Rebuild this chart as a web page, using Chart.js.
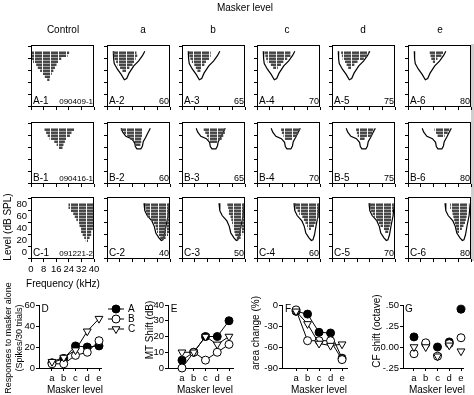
<!DOCTYPE html>
<html>
<head>
<meta charset="utf-8">
<script src="https://cdn.jsdelivr.net/npm/chart.js@4.4.0/dist/chart.umd.min.js"></script>
<style>
body { margin: 0; width: 474px; height: 395px; overflow: hidden; position: relative; background: #fff;
       font-family: "Liberation Sans", Arial, sans-serif; color: #000; }
.t { position: absolute; white-space: nowrap; line-height: 1; }
.edge { position: absolute; left: 471px; top: 44px; width: 3px; height: 217px; background: #cfcfcf; }
</style>
</head>
<body>
<div class="edge"></div>
<script>
// ---- data: frequency response areas (level dB, low kHz, high kHz) ----
const freqTicks = [0, 8, 16, 24, 32, 40];
const levelTicks = [0, 20, 40, 60, 80];
const columnLabels = ['Control', 'a', 'b', 'c', 'd', 'e'];
const rowNames = ['A', 'B', 'C'];
const unitIds = ['090409-1', '090416-1', '091221-2'];
const maskerA = [60, 65, 70, 75, 80];
const maskerB = [60, 65, 70, 75, 80];
const maskerC = [40, 50, 60, 70, 80];

// control tuning-curve outlines (kHz, dB)
const outlineA = [[4,82.5],[4.2,70],[4.6,62],[6.5,53],[9,44],[11,35],[12.5,37],[14,46],[17,58],[20,66],[22.5,75],[24,82.5]];
const outlineB = [[9,82.5],[10,76],[12,69],[15.5,65],[17.5,59],[18,52],[19,48],[21.5,48],[22.5,53],[23,60],[24.5,67],[26,75],[27.5,82.5]];
const outlineC = [[23.5,82.5],[24,70],[25.5,62],[28.5,53],[30,44],[31,33],[33,25],[34.5,20.5],[35.5,21.5],[36.5,30],[37.5,45],[38.8,62],[39.5,82.5]];

const rasterA1 = [[80,0.5,24],[75,0.5,23],[70,0.5,19],[65,1.5,17.5],[60,3.5,16],[55,4.5,15],[50,6,14],[45,7.5,13],[40,9,12],[35,10.5,11.5]];
const rasterA2 = [[80,4,18.5],[75,4.5,19],[70,5,18],[65,6,17],[60,7,16],[55,8.5,14],[50,10,12.5]];
const rasterA3 = [[80,4.5,18],[75,5,18],[70,5.5,17],[65,6.5,15],[60,8,14],[55,9,12.5],[50,10,11.5]];
const rasterA4 = [[80,5,21],[75,5.5,21],[70,6,19],[65,7,16.5],[60,9,15],[55,10.5,13]];
const rasterA5 = [[80,6,23],[75,6.5,22],[70,7,20],[65,8.5,16],[60,9.5,14],[55,10.5,12]];
const rasterA6 = [[80,14,22.5],[75,14.5,21],[70,15,18.5],[65,16,17]];

const rasterB1 = [[80,8.8,27.5],[75,9.8,25.5],[70,10.8,24.5],[65,12,22.3],[60,15,21.3],[55,16.5,20.4],[50,17.8,19.8]];
const rasterB2 = [[80,9,22.5],[75,11,22],[70,13,22],[65,15,21.5],[60,17,21.5],[55,18,21]];
const rasterB3 = [[80,14,27],[75,15,27],[70,16,26],[65,17,25],[60,18,22]];
const rasterB4 = [[80,15.5,27],[75,16,26],[70,17,25],[65,18,22]];
const rasterB5 = [[80,15.5,26],[75,16,25.5],[70,16.5,25],[65,18,20.5]];
const rasterB6 = [[80,17,26],[75,18,25],[70,19,23]];

const rasterC1 = [[80,24,40],[75,24,40],[70,25,40],[65,27,40],[60,28,40],[55,29,40],[50,30,40],[45,31,40],[40,32,39],[35,32,38],[30,33,38],[25,34,37],[20,35,36]];
const rasterC2 = [[80,24.5,40],[75,25,40],[70,25,40],[65,25.5,40],[60,26,40],[55,28,40],[50,30,40],[45,31,40],[40,31.5,40],[35,32,39.5],[30,33,38.5],[25,34,37]];
const rasterC3 = [[80,29,40],[75,29.5,40],[70,30,40],[65,30,40],[60,31,40],[55,31.5,40],[50,32,40],[45,32.5,40],[40,33,39.5],[35,33.5,39],[30,34,38],[25,35,37]];
const rasterC4 = [[80,24,40],[75,25,40],[70,26,40],[65,27,40],[60,29,39],[55,30,38.5],[50,31,37],[45,32,36],[40,32.5,34]];
const rasterC5 = [[80,24,39],[75,24.5,39],[70,25,38.5],[65,26,38],[60,27,38],[55,28.5,37.5],[50,30,37],[45,31,36.5],[40,33,36],[35,34,35.5]];
const rasterC6 = [[80,27,38],[75,27,38],[70,27.5,37.5],[65,28.5,37.5],[60,29,37],[55,29.5,36.5],[50,30,36],[45,30.5,35],[40,31,34],[35,31.5,32.5]];

// ---- data: summary panels D-G ----
const maskerLevels = ['a', 'b', 'c', 'd', 'e'];
const seriesNames = ['A', 'B', 'C'];
const respA = [5, 9, 21, 20, 21];
const respB = [4, 4, 12, 15, 26];
const respC = [6, 10, 17, 35, 47];
const mtA = [5, 10, 20, 20, 30];
const mtB = [0, 10, 5, 10, 15];
const mtC = [10, 10, 20, 15, 20];
const areaA = [-9, -13, -39, -40, -76];
const areaB = [-7, -51, -51, -51, -78];
const areaC = [-9, -27, -55, -58, -56];
const cfA = [0.12, 0.04, 0.0, 0.06, 0.45];
const cfB = [-0.08, 0.05, -0.11, 0.04, 0.11];
const cfC = [0.0, 0.0, -0.11, 0.02, -0.05];
const respTicks = [0, 20, 40, 60];
const mtTicks = [0, 10, 20, 30, 40];
const areaTicks = [-90, -60, -30, 0];
const cfTicks = [-0.25, 0, 0.25, 0.5];
const cfTickLabels = ['-.25', '0.00', '.25', '.50'];

Chart.defaults.font.family = '"Liberation Sans", Arial, sans-serif';
Chart.defaults.font.size = 9;
Chart.defaults.color = '#000';

const COL_X = [31, 107, 182, 257, 332, 408];
const ROW_Y = [45, 122, 197];
const PW = 63, PH = 62;

function makeCanvas(x, y, w, h) {
  const cv = document.createElement('canvas');
  cv.width = w; cv.height = h;
  cv.style.cssText = `position:absolute;left:${x}px;top:${y}px;width:${w}px;height:${h}px`;
  document.body.appendChild(cv);
  return cv;
}

function text(str, x, y, size, align, rotate) {
  const d = document.createElement('div');
  d.className = 't';
  d.textContent = str;
  d.style.fontSize = size + 'px';
  d.style.left = x + 'px';
  d.style.top = y + 'px';
  let tf = align === 'left' ? 'translate(0,-50%)' : align === 'right' ? 'translate(-100%,-50%)' : 'translate(-50%,-50%)';
  if (rotate) tf += ' rotate(-90deg)';
  d.style.transform = tf;
  document.body.appendChild(d);
}

const framePlugin = {
  id: 'frame',
  afterDatasetsDraw(chart) {
    const a = chart.chartArea, ctx = chart.ctx;
    ctx.save();
    ctx.strokeStyle = '#000';
    ctx.lineWidth = 1;
    ctx.strokeRect(Math.round(a.left) + 0.5, Math.round(a.top) + 0.5,
                   Math.round(a.right - a.left) - 1, Math.round(a.bottom - a.top) - 1);
    ctx.restore();
  }
};

// runs of spike ticks along a raster row
function rasterPattern(ctx) {
  const p = document.createElement('canvas');
  p.width = 8; p.height = 2;
  const g = p.getContext('2d');
  g.fillStyle = '#444';
  g.fillRect(0, 0, 7, 2);
  return ctx.createPattern(p, 'repeat');
}

const rasters = [
  [rasterA1, rasterA2, rasterA3, rasterA4, rasterA5, rasterA6],
  [rasterB1, rasterB2, rasterB3, rasterB4, rasterB5, rasterB6],
  [rasterC1, rasterC2, rasterC3, rasterC4, rasterC5, rasterC6]
];
const outlines = [outlineA, outlineB, outlineC];
const maskers = [maskerA, maskerB, maskerC];

function smallPanel(r, c) {
  const withLabels = r === 2 && c === 0;
  const padL = withLabels ? 24 : 4, padB = withLabels ? 16 : 4, padR = withLabels ? 8 : 1;
  const W = padL + PW + padR, H = PH + padB + 1;
  const cv = makeCanvas(COL_X[c] - padL, ROW_Y[r] - 1, W, H);
  const datasets = [{
    type: 'bar',
    data: rasters[r][c].map(([lvl, lo, hi]) => ({ y: lvl, x: [lo, hi] })),
    backgroundColor: rasterPattern(cv.getContext('2d')),
    borderWidth: 0,
    barThickness: 1.8
  }];
  if (c > 0) {
    datasets.push({
      type: 'line',
      data: outlines[r].map(([f, l]) => ({ x: f, y: l })),
      borderColor: '#000',
      borderWidth: 1.2,
      pointRadius: 0,
      fill: false
    });
  }
  new Chart(cv, {
    type: 'bar',
    data: { datasets },
    options: {
      responsive: false, animation: false, devicePixelRatio: 1, events: [],
      indexAxis: 'y',
      layout: { padding: { top: 1, right: padR, left: 0, bottom: 0 } },
      plugins: { legend: { display: false }, tooltip: { enabled: false } },
      scales: {
        x: {
          type: 'linear', min: 0, max: 40,
          afterBuildTicks: s => { s.ticks = freqTicks.map(v => ({ value: v })); },
          afterFit: s => { s.height = padB; s.paddingLeft = 0; s.paddingRight = 0; },
          grid: { drawOnChartArea: false, drawTicks: true, tickLength: 3, color: '#000' },
          border: { display: false },
          ticks: { display: withLabels, padding: 2, maxRotation: 0, autoSkip: false, font: { size: 9.5 } }
        },
        y: {
          type: 'linear', min: 0, max: 82.5,
          afterBuildTicks: s => { s.ticks = levelTicks.map(v => ({ value: v })); },
          afterFit: s => { s.width = padL; s.paddingTop = 0; s.paddingBottom = 0; },
          grid: { drawOnChartArea: false, drawTicks: true, tickLength: 3, color: '#000' },
          border: { display: false },
          ticks: { display: withLabels, padding: 1, autoSkip: false, font: { size: 9.5 } }
        }
      }
    },
    plugins: [framePlugin]
  });
  const yb = ROW_Y[r] + PH - 6;
  text(rowNames[r] + '-' + (c + 1), COL_X[c] + 2, yb, 10, 'left');
  if (c === 0) text(unitIds[r], COL_X[c] + PW - 1, yb + 1, 8, 'right');
  else text(String(maskers[r][c - 1]), COL_X[c] + PW - 1, yb, 9, 'right');
}

for (let r = 0; r < 3; r++) for (let c = 0; c < 6; c++) smallPanel(r, c);

// ---- summary panels ----
const markerStyles = [
  { shape: 'circle', rot: 0, r: 4, fill: '#000', order: 3 },
  { shape: 'circle', rot: 0, r: 4, fill: '#fff', order: 2 },
  { shape: 'triangle', rot: 180, r: 4.5, fill: '#fff', order: 1 }
];

const legendPlugin = {
  id: 'lineLegend',
  afterDraw(chart, args, opts) {
    if (!opts.show) return;
    const ctx = chart.ctx;
    ctx.save();
    chart.data.datasets.forEach((ds, k) => {
      const y = opts.y0 + k * opts.dy;
      ctx.strokeStyle = '#000'; ctx.lineWidth = 1;
      ctx.beginPath(); ctx.moveTo(opts.x0, y); ctx.lineTo(opts.x0 + 16, y); ctx.stroke();
      ctx.fillStyle = ds.pointBackgroundColor; ctx.strokeStyle = '#000';
      Chart.helpers.drawPoint(ctx, { pointStyle: ds.pointStyle, rotation: ds.rotation, radius: ds.pointRadius, borderWidth: 1 }, opts.x0 + 8, y);
      ctx.fillStyle = '#000'; ctx.font = '10px "Liberation Sans", Arial, sans-serif';
      ctx.textBaseline = 'middle';
      ctx.fillText(ds.label, opts.x0 + 20, y);
    });
    ctx.restore();
  }
};

function bottomPanel(p) {
  const left = p.axisX - 27, top = 296;
  const W = p.canvasRight - left, H = 390 - top;
  const cv = makeCanvas(left, top, W, H);
  new Chart(cv, {
    type: 'line',
    data: {
      datasets: p.series.map((vals, k) => ({
        label: seriesNames[k],
        data: vals.map((v, i) => ({ x: i + 1, y: v })),
        showLine: p.lines,
        borderColor: '#000', borderWidth: 1,
        pointStyle: markerStyles[k].shape, rotation: markerStyles[k].rot,
        pointRadius: markerStyles[k].r, pointBackgroundColor: markerStyles[k].fill,
        pointBorderColor: '#000', pointBorderWidth: 1,
        order: markerStyles[k].order, clip: false
      }))
    },
    options: {
      responsive: false, animation: false, devicePixelRatio: 1, events: [],
      layout: { padding: { top: 305 - top, right: W - (p.right - left), left: 0, bottom: 0 } },
      plugins: {
        legend: { display: false }, tooltip: { enabled: false },
        lineLegend: { show: !!p.legend, x0: 108 - left, y0: 309 - top, dy: 10 }
      },
      scales: {
        x: {
          type: 'linear', min: p.xMin, max: p.xMax,
          afterBuildTicks: s => { s.ticks = maskerLevels.map((_, i) => ({ value: i + 1 })); },
          afterFit: s => { s.height = 390 - 368; s.paddingLeft = 0; s.paddingRight = 0; },
          grid: { drawOnChartArea: false, drawTicks: true, tickLength: 3, color: '#000' },
          border: { display: true, color: '#000', width: 1 },
          ticks: { padding: 2, autoSkip: false, maxRotation: 0, font: { size: 9.5 },
                   callback: (v, i) => maskerLevels[i] }
        },
        y: {
          type: 'linear', min: p.yTicks[0], max: p.yTicks[p.yTicks.length - 1],
          afterBuildTicks: s => { s.ticks = p.yTicks.map(v => ({ value: v })); },
          afterFit: s => { s.width = 27; s.paddingTop = 0; s.paddingBottom = 0; },
          grid: { drawOnChartArea: false, drawTicks: true, tickLength: 3, color: '#000' },
          border: { display: true, color: '#000', width: 1 },
          ticks: { padding: 1, autoSkip: false, font: { size: 9.5 },
                   callback: (v, i) => p.yLabels ? p.yLabels[i] : String(v) }
        }
      }
    },
    plugins: [legendPlugin]
  });
  text(p.letter, p.axisX + 6, 309, 10, 'center');
  text('Masker level', p.xLabelX, 390, 10, 'center');
}

bottomPanel({ letter: 'D', axisX: 39, right: 101, canvasRight: 142, xMin: -0.106, xMax: 5.17,
  series: [respA, respB, respC], yTicks: respTicks, lines: true, legend: true, xLabelX: 75 });
bottomPanel({ letter: 'E', axisX: 168, right: 233, canvasRight: 240, xMin: -0.19, xMax: 5.34,
  series: [mtA, mtB, mtC], yTicks: mtTicks, lines: true, xLabelX: 205 });
bottomPanel({ letter: 'F', axisX: 282, right: 347, canvasRight: 354, xMin: -0.22, xMax: 5.43,
  series: [areaA, areaB, areaC], yTicks: areaTicks, lines: true, xLabelX: 319 });
bottomPanel({ letter: 'G', axisX: 403, right: 463, canvasRight: 470, xMin: 0.064, xMax: 5.17,
  series: [cfA, cfB, cfC], yTicks: cfTicks, yLabels: cfTickLabels, lines: false, xLabelX: 437 });

// ---- titles ----
text('Masker level', 245, 8, 10, 'center');
const colCenters = [63, 143, 213, 287, 363, 440];
columnLabels.forEach((s, i) => text(s, colCenters[i], 30, 10, 'center'));
text('Level (dB SPL)', 8, 227, 10, 'center', true);
text('Frequency (kHz)', 63, 284, 10, 'center');
text('Responses to masker alone', 8, 338, 9, 'center', true);
text('(Spikes/30 trials)', 19, 338, 9, 'center', true);
text('MT Shift (dB)', 150, 330, 10, 'center', true);
text('area change (%)', 256, 333, 10, 'center', true);
text('CF shift (octave)', 377, 331, 10, 'center', true);
</script>
</body>
</html>
